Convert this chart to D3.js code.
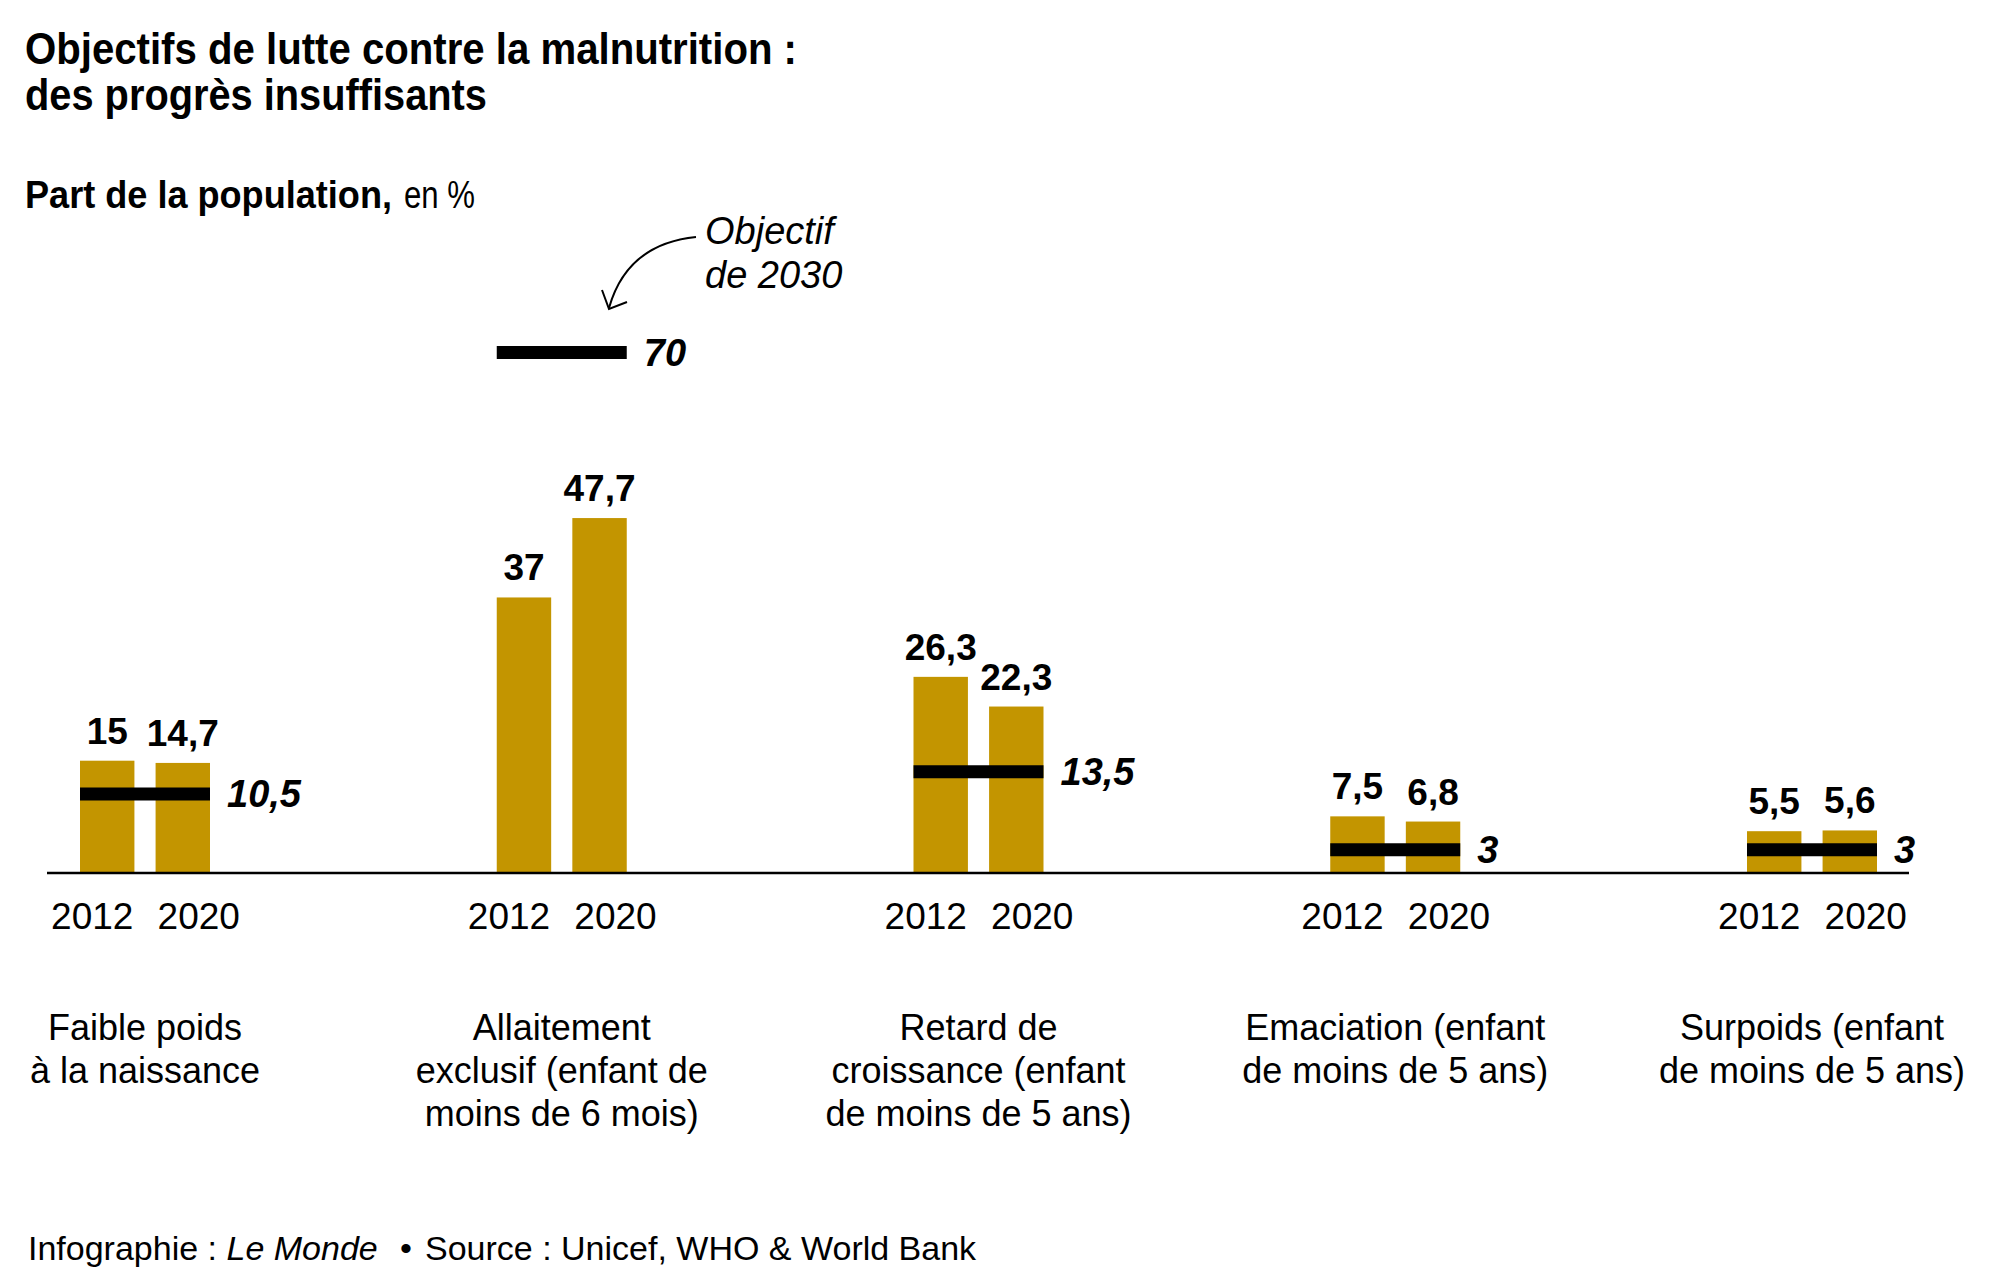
<!DOCTYPE html>
<html>
<head>
<meta charset="utf-8">
<script src="https://cdn.jsdelivr.net/npm/d3@7"></script>
<style>
  html, body { margin: 0; padding: 0; background: #fff; }
  svg { display: block; }
  .sans { font-family: 'Liberation Sans', Arial, sans-serif; }
</style>
</head>
<body>
<svg id="chart" width="2000" height="1283"></svg>
<script>
// ---- Data ----
const categories = [
  ["Faible poids", "à la naissance"],
  ["Allaitement", "exclusif (enfant de", "moins de 6 mois)"],
  ["Retard de", "croissance (enfant", "de moins de 5 ans)"],
  ["Emaciation (enfant", "de moins de 5 ans)"],
  ["Surpoids (enfant", "de moins de 5 ans)"]
];
const categoryKeys = ["poids", "allaitement", "retard", "emaciation", "surpoids"];
const years = ["2012", "2020"];
const values2012 = [15, 37, 26.3, 7.5, 5.5];
const values2020 = [14.7, 47.7, 22.3, 6.8, 5.6];
const targets2030 = [10.5, 70, 13.5, 3, 3];

const fmt = v => String(v).replace(".", ",");

// ---- Layout ----
const svg = d3.select("#chart");
const baseY = 872;
const barColor = "#c39500";

const x = d3.scalePoint().domain(categoryKeys).range([145, 1812]);
const xYear = d3.scaleBand().domain(years).range([-65, 65]).paddingInner(0.28).paddingOuter(0);
const y = d3.scaleLinear().domain([0, 70]).range([baseY, baseY - 70 * 7.42]);

// Title (condensed bold)
const title = svg.append("text").attr("class", "sans")
  .attr("font-size", 45).attr("font-weight", "bold").attr("fill", "#000");
title.append("tspan").attr("x", 25).attr("y", 64)
  .attr("textLength", 772).attr("lengthAdjust", "spacingAndGlyphs")
  .text("Objectifs de lutte contre la malnutrition :");
const title2 = svg.append("text").attr("class", "sans")
  .attr("font-size", 45).attr("font-weight", "bold").attr("fill", "#000");
title2.append("tspan").attr("x", 25).attr("y", 110)
  .attr("textLength", 462).attr("lengthAdjust", "spacingAndGlyphs")
  .text("des progrès insuffisants");

// Subtitle
svg.append("text").attr("class", "sans").attr("x", 25).attr("y", 208)
  .attr("font-size", 38).attr("font-weight", "bold").attr("fill", "#000")
  .attr("textLength", 367).attr("lengthAdjust", "spacingAndGlyphs")
  .text("Part de la population,");
svg.append("text").attr("class", "sans").attr("x", 404).attr("y", 208)
  .attr("font-size", 38).attr("fill", "#000")
  .attr("textLength", 71).attr("lengthAdjust", "spacingAndGlyphs")
  .text("en %");

// Groups
const data = categoryKeys.map((k, i) => ({
  key: k, lines: categories[i],
  bars: [{year: "2012", v: values2012[i]}, {year: "2020", v: values2020[i]}],
  target: targets2030[i]
}));

const g = svg.append("g").selectAll("g").data(data).join("g")
  .attr("transform", d => `translate(${x(d.key)},0)`);

// Bars
g.selectAll("rect.bar").data(d => d.bars).join("rect").attr("class", "bar")
  .attr("x", d => xYear(d.year)).attr("width", xYear.bandwidth())
  .attr("y", d => y(d.v)).attr("height", d => baseY - y(d.v))
  .attr("fill", barColor);

// Value labels
g.selectAll("text.val").data(d => d.bars).join("text").attr("class", "val sans")
  .attr("x", d => xYear(d.year) + xYear.bandwidth() / 2)
  .attr("y", d => y(d.v) - 17)
  .attr("text-anchor", "middle").attr("font-size", 37).attr("font-weight", "bold")
  .attr("fill", "#000").text(d => fmt(d.v));

// Target lines
g.append("line")
  .attr("x1", xYear("2012")).attr("x2", xYear("2020") + xYear.bandwidth())
  .attr("y1", d => y(d.target)).attr("y2", d => y(d.target))
  .attr("stroke", "#000").attr("stroke-width", 13);

g.append("text").attr("class", "sans")
  .attr("x", xYear("2020") + xYear.bandwidth() + 17)
  .attr("y", d => y(d.target) + 13)
  .attr("font-size", 38).attr("font-weight", "bold").attr("font-style", "italic")
  .attr("fill", "#000").text(d => fmt(d.target));

// Year labels: 2012 right-aligned on its bar, 2020 left-aligned on its bar
g.selectAll("text.year").data(d => d.bars).join("text").attr("class", "year sans")
  .attr("x", d => d.year === "2012" ? xYear(d.year) + xYear.bandwidth() - 1 : xYear(d.year) + 2)
  .attr("text-anchor", d => d.year === "2012" ? "end" : "start")
  .attr("y", 929).attr("font-size", 37)
  .attr("fill", "#000").text(d => d.year);

// Category labels
g.append("text").attr("class", "sans").attr("text-anchor", "middle")
  .attr("font-size", 36).attr("fill", "#000")
  .selectAll("tspan").data(d => d.lines).join("tspan")
  .attr("x", 0).attr("y", (d, i) => 1040 + i * 43).text(d => d);

// Axis baseline
svg.append("line").attr("x1", 47).attr("x2", 1909).attr("y1", baseY + 1).attr("y2", baseY + 1)
  .attr("stroke", "#000").attr("stroke-width", 2.5);

// Annotation
const ann = svg.append("text").attr("class", "sans").attr("font-size", 38).attr("font-style", "italic").attr("fill", "#000");
ann.append("tspan").attr("x", 705).attr("y", 244).text("Objectif");
ann.append("tspan").attr("x", 705).attr("y", 288).text("de 2030");
svg.append("path").attr("d", "M696,237 Q627,244 609,308")
  .attr("fill", "none").attr("stroke", "#000").attr("stroke-width", 2);
svg.append("path").attr("d", "M602,290 L609,309 L627,302")
  .attr("fill", "none").attr("stroke", "#000").attr("stroke-width", 2);

// Footer
const foot = svg.append("text").attr("class", "sans").attr("y", 1260).attr("font-size", 34).attr("fill", "#000");
foot.append("tspan").attr("x", 28).text("Infographie : ");
foot.append("tspan").attr("font-style", "italic").text("Le Monde");
foot.append("tspan").attr("x", 400).text("•");
foot.append("tspan").attr("x", 425).text("Source : Unicef, WHO & World Bank");
</script>
</body>
</html>
